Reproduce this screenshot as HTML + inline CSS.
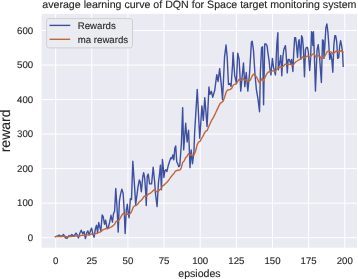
<!DOCTYPE html>
<html><head><meta charset="utf-8"><style>
html,body{margin:0;padding:0;background:#fff;}
body{width:358px;height:279px;overflow:hidden;}
svg{display:block;font-family:"Liberation Sans",Arial,sans-serif;} text{text-rendering:geometricPrecision;stroke:#262626;stroke-width:0.12px;}
</style></head><body>
<svg width="358" height="279" viewBox="0 0 358 279">
<defs><clipPath id="c"><rect x="41.6" y="13.9" width="315.40" height="233.80"/></clipPath></defs>
<rect x="41.6" y="13.9" width="315.40" height="233.80" fill="#eaeaf2"/>
<g stroke="#fff" stroke-width="1.0"><line x1="55.65" y1="13.9" x2="55.65" y2="247.7"/><line x1="91.79" y1="13.9" x2="91.79" y2="247.7"/><line x1="127.93" y1="13.9" x2="127.93" y2="247.7"/><line x1="164.06" y1="13.9" x2="164.06" y2="247.7"/><line x1="200.20" y1="13.9" x2="200.20" y2="247.7"/><line x1="236.34" y1="13.9" x2="236.34" y2="247.7"/><line x1="272.47" y1="13.9" x2="272.47" y2="247.7"/><line x1="308.61" y1="13.9" x2="308.61" y2="247.7"/><line x1="344.75" y1="13.9" x2="344.75" y2="247.7"/><line x1="41.6" y1="237.70" x2="357.0" y2="237.70"/><line x1="41.6" y1="203.17" x2="357.0" y2="203.17"/><line x1="41.6" y1="168.64" x2="357.0" y2="168.64"/><line x1="41.6" y1="134.11" x2="357.0" y2="134.11"/><line x1="41.6" y1="99.58" x2="357.0" y2="99.58"/><line x1="41.6" y1="65.05" x2="357.0" y2="65.05"/><line x1="41.6" y1="30.52" x2="357.0" y2="30.52"/></g>
<g clip-path="url(#c)" fill="none" stroke-linejoin="round" stroke-linecap="square">
<polyline points="55.50,236.61 57.67,235.92 59.26,235.13 61.28,236.51 63.45,234.44 65.47,237.92 66.92,238.33 68.94,235.55 70.38,236.10 71.83,234.44 73.13,236.10 74.57,235.13 76.02,233.03 77.32,235.13 78.48,237.92 79.92,233.03 81.22,230.25 82.67,233.72 84.11,231.62 85.41,238.61 86.86,232.35 87.87,230.94 89.17,235.13 90.61,230.25 91.62,228.15 92.78,233.72 94.08,237.23 95.53,228.15 96.54,225.33 97.55,232.35 98.71,222.54 99.72,226.74 100.87,230.94 102.17,214.87 103.19,216.66 104.49,224.23 105.64,220.20 107.09,228.70 108.39,226.98 109.69,222.16 110.99,215.28 112.43,222.16 113.59,213.22 114.60,211.50 115.76,188.45 117.06,208.06 118.21,232.14 119.37,201.18 120.53,194.30 121.83,189.14 123.13,193.27 124.14,209.78 125.15,233.52 126.31,209.78 127.32,204.28 128.18,213.22 129.05,217.69 130.35,198.77 131.51,199.63 132.81,161.28 134.25,181.92 135.70,204.62 137.87,187.80 139.31,179.92 140.18,181.88 141.33,191.75 142.78,176.96 143.65,172.63 144.66,177.96 145.67,191.75 146.25,205.55 147.26,175.96 148.27,174.00 149.57,183.88 151.59,183.88 153.18,167.09 154.63,181.88 155.49,193.72 157.08,206.55 158.53,181.88 159.54,174.00 160.41,165.13 161.42,189.79 162.43,159.56 163.30,167.67 163.88,177.51 164.89,170.63 165.90,169.64 166.91,171.60 168.21,165.68 169.80,160.76 170.81,157.80 171.82,158.76 172.83,154.84 173.85,159.76 174.86,147.93 175.72,145.97 176.74,161.76 177.75,163.72 178.76,166.68 179.77,165.68 181.36,143.97 182.66,107.61 183.67,149.89 185.69,123.26 187.14,142.01 188.58,130.18 190.03,167.67 191.19,149.89 192.49,163.72 193.93,151.88 194.65,132.14 197.25,89.38 199.71,138.23 200.87,121.72 201.88,105.89 203.32,120.34 204.77,97.64 207.08,126.53 208.96,86.97 209.83,94.30 211.42,91.34 212.72,97.26 214.74,90.34 216.76,74.59 218.06,81.47 219.65,68.67 221.24,84.43 222.54,99.70 224.56,56.84 226.01,45.00 227.17,56.84 228.47,84.43 229.91,83.46 231.07,86.42 232.51,65.30 233.09,52.57 234.68,75.62 236.41,83.19 237.71,53.26 239.16,59.45 240.75,91.10 243.49,62.89 244.80,86.63 246.24,72.52 247.83,91.10 249.56,73.21 251.44,41.91 252.16,41.22 253.47,50.16 254.91,73.21 256.36,89.38 258.09,99.70 259.53,111.74 260.40,72.18 261.56,47.79 262.57,46.83 263.58,104.86 264.74,43.87 265.89,43.87 267.05,45.83 267.92,52.74 269.07,60.62 269.94,69.29 270.95,74.93 272.39,58.42 273.55,67.33 275.43,74.93 276.87,43.63 277.89,32.79 278.32,69.77 280.20,59.42 280.78,55.46 281.79,75.79 282.80,57.46 283.81,49.54 285.40,45.62 286.12,53.50 287.28,72.87 288.14,59.42 289.30,59.42 290.60,63.37 291.61,59.42 292.91,71.49 293.64,54.50 294.65,37.71 295.66,37.71 296.53,45.62 297.54,57.46 298.55,41.67 299.13,39.71 299.99,49.54 300.72,59.42 301.58,35.75 302.45,37.71 303.46,49.54 304.47,76.79 305.49,49.82 306.35,47.55 307.51,47.55 308.38,52.50 309.68,70.46 310.54,59.38 311.55,31.79 312.28,33.76 312.85,45.59 313.43,31.79 314.30,53.47 315.46,91.10 317.05,49.82 318.20,44.66 319.65,58.42 321.38,82.50 322.54,39.84 323.40,40.67 323.98,58.42 324.85,45.62 325.86,27.87 326.87,23.92 327.88,31.79 328.89,45.62 329.76,59.42 330.77,53.50 331.78,59.42 332.80,72.25 333.81,45.62 334.82,35.75 335.69,35.75 336.70,41.67 337.71,58.42 338.72,57.46 339.73,45.62 340.60,40.67 341.61,45.62 342.62,53.50 343.20,66.33" stroke="#3d4f9f" stroke-width="1.4"/>
<polyline points="55.50,236.61 56.95,236.58 58.39,236.49 59.84,236.41 61.28,236.43 62.73,236.32 64.17,236.27 65.61,236.46 67.06,236.65 68.50,236.62 69.95,236.57 71.39,236.43 72.84,236.38 74.28,236.30 75.73,236.04 77.17,235.96 78.62,236.13 80.06,235.82 81.51,235.37 82.95,235.19 84.40,235.02 85.84,235.23 87.29,234.91 88.73,234.83 90.18,234.56 91.62,233.96 93.07,234.05 94.52,234.14 95.96,233.46 97.41,233.29 98.85,232.32 100.30,232.04 101.74,230.92 103.19,229.56 104.63,229.05 106.08,228.49 107.52,228.53 108.97,228.24 110.41,227.34 111.86,226.63 113.30,225.60 114.75,224.00 116.19,221.19 117.64,221.18 119.08,220.06 120.53,217.59 121.97,214.90 123.42,213.33 124.86,214.78 126.31,214.40 127.75,214.02 129.19,214.42 130.64,213.13 132.09,210.35 133.53,206.76 134.98,205.71 136.42,205.35 137.87,203.92 139.31,201.86 140.75,200.72 142.20,199.29 143.65,196.90 145.09,195.88 146.54,196.28 147.98,194.40 149.43,193.53 150.87,192.86 152.31,191.49 153.76,189.95 155.20,190.23 156.65,191.74 158.09,191.60 159.54,189.92 160.99,188.92 162.43,186.04 163.88,185.22 165.32,183.74 166.76,182.50 168.21,180.80 169.66,178.81 171.10,176.72 172.55,174.90 173.99,173.49 175.44,171.09 176.88,170.49 178.32,170.30 179.77,170.17 181.22,168.10 182.66,162.42 184.11,160.97 185.55,157.79 187.00,156.19 188.44,153.86 189.89,155.01 191.33,154.78 192.78,155.56 194.22,154.52 195.66,150.72 197.11,144.92 198.56,142.03 200.00,141.32 201.44,138.56 202.89,136.40 204.34,133.30 205.78,131.08 207.22,130.41 208.67,126.75 210.12,123.52 211.56,120.43 213.00,118.08 214.45,115.46 215.90,112.28 217.34,109.14 218.78,106.14 220.23,103.33 221.68,102.34 223.12,101.26 224.56,97.25 226.01,92.47 227.46,89.99 228.90,89.72 230.34,89.39 231.79,88.21 233.24,85.03 234.68,84.24 236.12,84.16 237.57,81.54 239.02,79.40 240.46,80.11 241.91,80.13 243.35,78.72 244.80,79.98 246.24,79.72 247.69,81.21 249.13,81.40 250.58,79.47 252.02,76.25 253.47,74.27 254.91,74.81 256.36,76.95 257.80,79.49 259.25,82.73 260.69,81.30 262.13,78.11 263.58,80.98 265.02,77.45 266.47,74.36 267.92,72.34 269.36,71.59 270.81,71.95 272.25,70.90 273.70,70.91 275.14,71.51 276.59,69.68 278.03,67.55 279.48,67.47 280.92,66.90 282.37,67.08 283.81,65.68 285.25,64.06 286.70,64.37 288.14,64.30 289.59,64.34 291.03,64.53 292.48,65.29 293.93,64.21 295.37,62.05 296.81,61.25 298.26,60.25 299.71,59.38 301.15,58.69 302.60,56.93 304.04,57.88 305.49,57.18 306.93,56.30 308.38,55.98 309.82,57.27 311.26,55.51 312.71,54.20 314.16,53.71 315.60,57.08 317.05,56.46 318.49,55.66 319.94,56.44 321.38,59.14 322.82,57.32 324.27,57.08 325.72,54.49 327.16,51.73 328.61,50.78 330.05,51.54 331.50,52.26 332.94,53.99 334.38,52.69 335.83,51.19 337.28,51.30 338.72,52.02 340.17,51.23 341.61,50.78 343.06,52.12" stroke="#be683a" stroke-width="1.4"/>
</g>
<rect x="46.6" y="18.6" width="85.9" height="29.3" rx="2.4" fill="#eaeaf2" fill-opacity="0.92" stroke="#cccccc" stroke-width="0.87"/>
<line x1="49.5" y1="25.4" x2="70.3" y2="25.4" stroke="#3d4f9f" stroke-width="1.4"/>
<line x1="49.5" y1="39.3" x2="70.2" y2="39.3" stroke="#be683a" stroke-width="1.4"/>
<g fill="#262626" font-size="9.65">
<text x="77.8" y="29.0">Rewards</text>
<text x="77.8" y="42.7">ma rewards</text>
<text x="33.1" y="240.90" text-anchor="end">0</text><text x="33.1" y="206.37" text-anchor="end">100</text><text x="33.1" y="171.84" text-anchor="end">200</text><text x="33.1" y="137.31" text-anchor="end">300</text><text x="33.1" y="102.78" text-anchor="end">400</text><text x="33.1" y="68.25" text-anchor="end">500</text><text x="33.1" y="33.72" text-anchor="end">600</text>
<text x="55.65" y="264.1" text-anchor="middle">0</text><text x="91.79" y="264.1" text-anchor="middle">25</text><text x="127.93" y="264.1" text-anchor="middle">50</text><text x="164.06" y="264.1" text-anchor="middle">75</text><text x="200.20" y="264.1" text-anchor="middle">100</text><text x="236.34" y="264.1" text-anchor="middle">125</text><text x="272.47" y="264.1" text-anchor="middle">150</text><text x="308.61" y="264.1" text-anchor="middle">175</text><text x="344.75" y="264.1" text-anchor="middle">200</text>
</g>
<text x="199.4" y="7.9" text-anchor="middle" fill="#262626" font-size="10.63">average learning curve of DQN for Space target monitoring system</text>
<text x="199.45" y="276.6" text-anchor="middle" fill="#262626" font-size="10.6">epsiodes</text>
<text transform="translate(10.0,130.9) rotate(-90)" text-anchor="middle" fill="#262626" font-size="14.0">reward</text>
</svg>
</body></html>
